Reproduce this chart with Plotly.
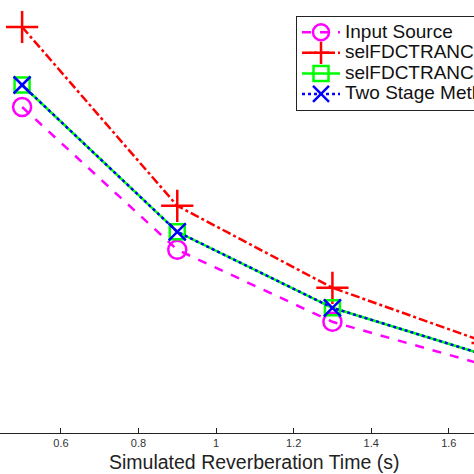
import plotly.graph_objects as go

reverb_time = [0.5, 0.9, 1.3, 1.7]
input_source = [8.15, 4.58, 2.78, 1.68]
selfdctranc_a = [10.15, 5.68, 3.63, 2.25]
selfdctranc_b = [8.70, 5.03, 3.13, 1.93]
two_stage = [8.70, 5.03, 3.13, 1.93]

names = ["Input Source", "selFDCTRANC (Proposed I)", "selFDCTRANC (Proposed II)", "Two Stage Method"]
x_ticks = [0.6, 0.8, 1.0, 1.2, 1.4, 1.6]
x_tick_labels = ["0.6", "0.8", "1", "1.2", "1.4", "1.6"]
x_title = "Simulated Reverberation Time (s)"


def big(s):
    return '<span style="font-size:19px">' + s + '</span>'


fig = go.Figure()
fig.add_trace(go.Scatter(x=reverb_time, y=input_source, name=big(names[0]), mode="lines+markers",
                         line=dict(color="#ff00ff", width=2.5, dash="dash"),
                         marker=dict(symbol="circle-open", size=18, color="#ff00ff", line=dict(width=2.5))))
fig.add_trace(go.Scatter(x=reverb_time, y=selfdctranc_a, name=big(names[1]), mode="lines+markers",
                         line=dict(color="#ff0000", width=2.5, dash="dashdot"),
                         marker=dict(symbol="cross-thin-open", size=23, color="#ff0000", line=dict(width=2.5, color="#ff0000"))))
fig.add_trace(go.Scatter(x=reverb_time, y=selfdctranc_b, name=big(names[2]), mode="lines+markers",
                         line=dict(color="#00ff00", width=2.5),
                         marker=dict(symbol="square-open", size=15, color="#00ff00", line=dict(width=2.5))))
fig.add_trace(go.Scatter(x=reverb_time, y=two_stage, name=big(names[3]), mode="lines+markers",
                         line=dict(color="#0000ff", width=2.5, dash="dot"),
                         marker=dict(symbol="x-thin-open", size=17, color="#0000ff", line=dict(width=2.5, color="#0000ff"))))

fig.update_layout(
    width=474, height=474,
    margin=dict(l=0, r=0, t=0, b=41, autoexpand=False),
    paper_bgcolor="white", plot_bgcolor="white",
    font=dict(family="Liberation Sans, Arial, sans-serif", color="#222222"),
    showlegend=True,
    legend=dict(x=0.6245, y=0.963, xanchor="left", yanchor="top",
                bgcolor="white", bordercolor="#222222", borderwidth=1,
                itemwidth=38,
                font=dict(size=13.5, color="#111111"), tracegroupgap=0),
    xaxis=dict(range=[0.443, 1.665], tickvals=x_ticks, ticktext=x_tick_labels,
               showline=True, linecolor="#222222", linewidth=1, mirror=False,
               ticks="inside", ticklen=5, tickcolor="#222222",
               showgrid=False, zeroline=False,
               tickfont=dict(size=11, color="#333333")),
    yaxis=dict(range=[0, 10.825], showline=False, showticklabels=False, ticks="",
               showgrid=False, zeroline=False),
    annotations=[dict(text=x_title, xref="paper", yref="paper", x=0.536, y=-0.0665,
                      xanchor="center", yanchor="middle", showarrow=False,
                      font=dict(size=19.5, color="#222222"))],
)

fig.write_html("out.html", config={"displayModeBar": False},
               post_script="document.body.style.margin='0';document.body.style.overflow='hidden';")
